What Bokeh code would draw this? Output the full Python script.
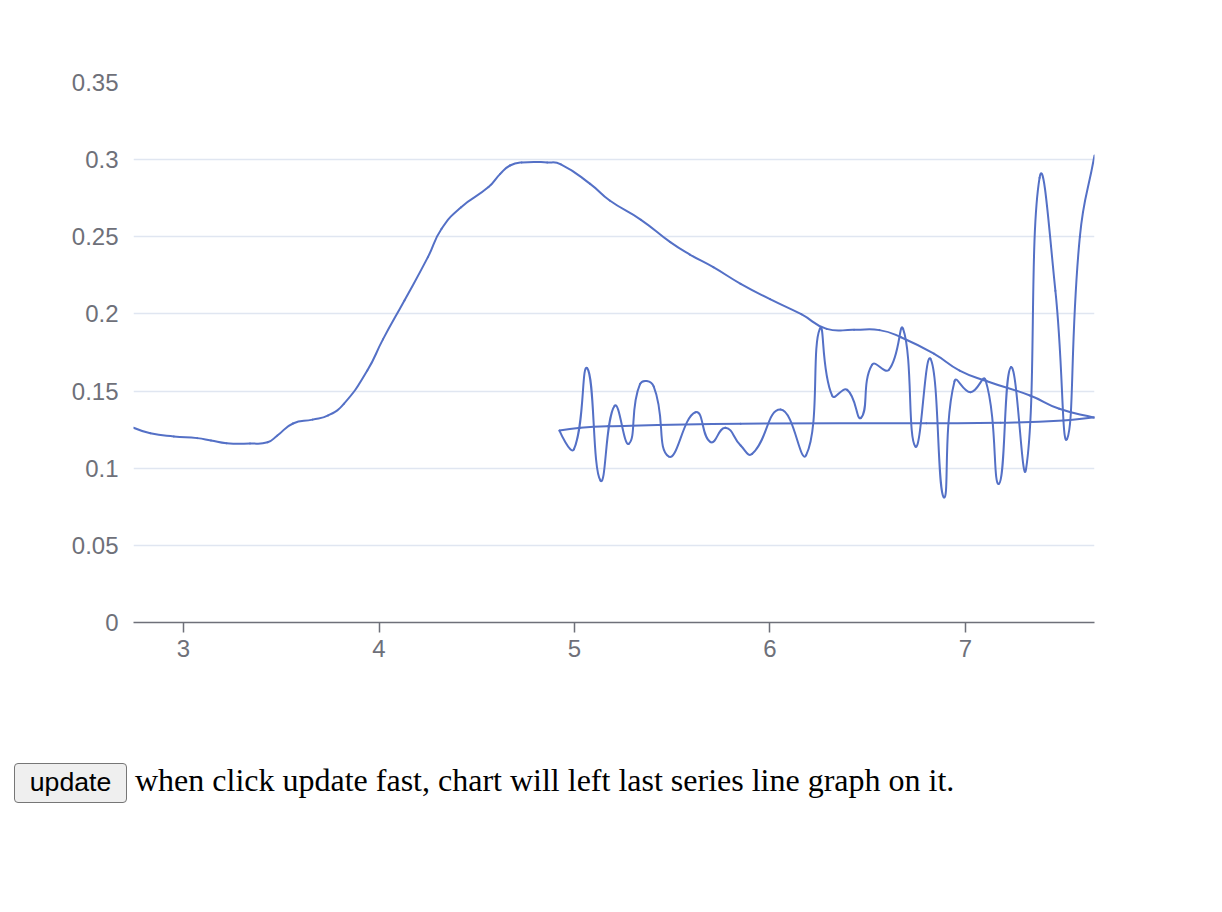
import math
from bokeh.plotting import figure
from bokeh.models import Range1d, FixedTicker, NumeralTickFormatter, Div, ColumnDataSource
from bokeh.layouts import column
from bokeh.embed import file_html
from bokeh.resources import INLINE

# ---------------- data ----------------
x_ticks = [3, 4, 5, 6, 7]
y_ticks = [0, 0.05, 0.1, 0.15, 0.2, 0.25, 0.3, 0.35]

series1_x = [2.744, 2.83, 2.95, 3.07, 3.14, 3.22, 3.34, 3.43, 3.48, 3.56, 3.66, 3.74,
             3.82, 3.94, 4.02, 4.13, 4.25, 4.32, 4.42, 4.56, 4.62, 4.67, 4.73, 4.86,
             4.93, 5.08, 5.18, 5.34, 5.49, 5.59, 5.71, 5.85, 6.00, 6.16, 6.29, 6.43,
             6.56, 6.67, 6.84, 6.97, 7.11, 7.33, 7.48, 7.66]
series1_y = [0.1262, 0.1227, 0.1206, 0.1195, 0.1180, 0.1162, 0.1160, 0.1168, 0.1212, 0.1290,
             0.1315, 0.1342, 0.1417, 0.1633, 0.1835, 0.2087, 0.2368, 0.2552, 0.2692, 0.2822,
             0.2908, 0.2962, 0.2982, 0.2982, 0.2970, 0.2843, 0.2735, 0.2610, 0.2465, 0.2385,
             0.2303, 0.2195, 0.2096, 0.1998, 0.1903, 0.1897, 0.1895, 0.1849, 0.1741, 0.1633,
             0.1564, 0.1471, 0.1385, 0.1327]

series2_x = [4.923, 4.997, 5.065, 5.133, 5.205, 5.278, 5.335, 5.405, 5.482, 5.619,
             5.696, 5.772, 5.85, 5.909, 6.054, 6.185, 6.255, 6.318, 6.395, 6.466,
             6.522, 6.608, 6.681, 6.744, 6.821, 6.889, 6.944, 7.026, 7.102, 7.171,
             7.233, 7.31, 7.379, 7.46, 7.52, 7.585, 7.66]
series2_y = [0.1244, 0.1123, 0.1648, 0.0920, 0.1404, 0.1158, 0.1545, 0.1530, 0.1076, 0.1363,
             0.1169, 0.1262, 0.1147, 0.1093, 0.1380, 0.1085, 0.1903, 0.1470, 0.1508, 0.1327,
             0.1670, 0.1638, 0.1903, 0.1140, 0.1709, 0.0812, 0.1564, 0.1493, 0.1573, 0.0899,
             0.1655, 0.0996, 0.2882, 0.2150, 0.1190, 0.2500, 0.3027]

leftover_x = [4.923, 5.03, 5.17, 5.85, 6.8, 7.18, 7.5, 7.66]
leftover_y = [0.1244, 0.1262, 0.1272, 0.1288, 0.1292, 0.1295, 0.1309, 0.1331]

# ---------------- layout constants ----------------
X_MIN, X_MAX = 2.744, 7.66
Y_MIN, Y_MAX = 0.0, 0.35
FW, FH = 961, 540
LINE_COLOR = "#5470c6"
LABEL_COLOR = "#6E7079"


def smooth_segments(xs, ys, smooth=0.5):
    """Bezier segments (ECharts-like smoothing) computed in screen proportions."""
    sx = FW / (X_MAX - X_MIN)
    sy = FH / (Y_MAX - Y_MIN)
    px = [v * sx for v in xs]
    py = [v * sy for v in ys]
    n = len(px)
    d = dict(x0=[], y0=[], x1=[], y1=[], cx0=[], cy0=[], cx1=[], cy1=[])
    cpx0, cpy0 = px[0], py[0]
    for i in range(1, n):
        x, y = px[i], py[i]
        prx, pry = px[i - 1], py[i - 1]
        if i < n - 1:
            nx, ny = px[i + 1], py[i + 1]
        else:
            nx, ny = x, y
        vx, vy = nx - prx, ny - pry
        l0 = math.hypot(x - prx, y - pry)
        l1 = math.hypot(nx - x, ny - y)
        r = l1 / (l0 + l1) if (l0 + l1) > 0 else 0.0
        cpx1 = x - vx * smooth * (1 - r)
        cpy1 = y - vy * smooth * (1 - r)
        d["x0"].append(prx / sx); d["y0"].append(pry / sy)
        d["x1"].append(x / sx); d["y1"].append(y / sy)
        d["cx0"].append(cpx0 / sx); d["cy0"].append(cpy0 / sy)
        d["cx1"].append(cpx1 / sx); d["cy1"].append(cpy1 / sy)
        cpx0 = x + vx * smooth * r
        cpy0 = y + vy * smooth * r
    return ColumnDataSource(d)


p = figure(frame_width=FW, frame_height=FH,
           min_border_left=133, min_border_right=112,
           min_border_top=82, min_border_bottom=130,
           x_range=Range1d(X_MIN, X_MAX), y_range=Range1d(Y_MIN, Y_MAX),
           output_backend="svg", toolbar_location=None)
p.outline_line_color = None
p.background_fill_color = "white"
p.border_fill_color = "white"
p.xgrid.visible = False
p.ygrid.grid_line_color = "#E0E6F1"
p.ygrid.grid_line_width = 1.5
p.ygrid.ticker = FixedTicker(ticks=y_ticks)

p.xaxis.ticker = FixedTicker(ticks=x_ticks)
p.xaxis.formatter = NumeralTickFormatter(format="0")
p.xaxis.axis_line_color = LABEL_COLOR
p.xaxis.axis_line_width = 1.5
p.xaxis.major_tick_line_color = LABEL_COLOR
p.xaxis.major_tick_line_width = 1.5
p.xaxis.major_tick_out = 10
p.xaxis.major_tick_in = 0
p.xaxis.minor_tick_line_color = None
p.xaxis.major_label_standoff = 7
p.xaxis.major_label_text_font = "Liberation Sans"
p.xaxis.major_label_text_font_size = "24px"
p.xaxis.major_label_text_color = LABEL_COLOR

p.yaxis.ticker = FixedTicker(ticks=y_ticks)
p.yaxis.formatter = NumeralTickFormatter(format="0.[00]")
p.yaxis.axis_line_color = None
p.yaxis.major_tick_line_color = None
p.yaxis.minor_tick_line_color = None
p.yaxis.major_tick_out = 0
p.yaxis.major_tick_in = 0
p.yaxis.major_label_standoff = 15
p.yaxis.major_label_text_font = "Liberation Sans"
p.yaxis.major_label_text_font_size = "24px"
p.yaxis.major_label_text_color = LABEL_COLOR

for xs, ys in [(series1_x, series1_y), (leftover_x, leftover_y), (series2_x, series2_y)]:
    src = smooth_segments(xs, ys)
    p.bezier(x0="x0", y0="y0", x1="x1", y1="y1", cx0="cx0", cy0="cy0",
             cx1="cx1", cy1="cy1", source=src, line_color=LINE_COLOR,
             line_width=2, line_cap="round", line_join="round")

button_css = ("font-family:'Liberation Sans',Arial,sans-serif;font-size:26.67px;"
              "width:113px;height:40px;box-sizing:border-box;padding:0 6px;"
              "border:1.5px solid #767676;border-radius:4px;background:#efefef;"
              "color:#000;vertical-align:baseline;margin:0;")
div = Div(text=('<div style="font-family:\'Liberation Serif\',\'Times New Roman\',serif;'
                'font-size:32px;line-height:normal;color:#000;white-space:nowrap;">'
                '<button style="' + button_css + '">update</button> '
                'when click update fast, chart will left last series line graph on it.</div>'),
          width=1190, margin=(10, 0, 0, 14))

layout = column(p, div, spacing=0)

with open("out.html", "w") as f:
    f.write(file_html(layout, INLINE))
